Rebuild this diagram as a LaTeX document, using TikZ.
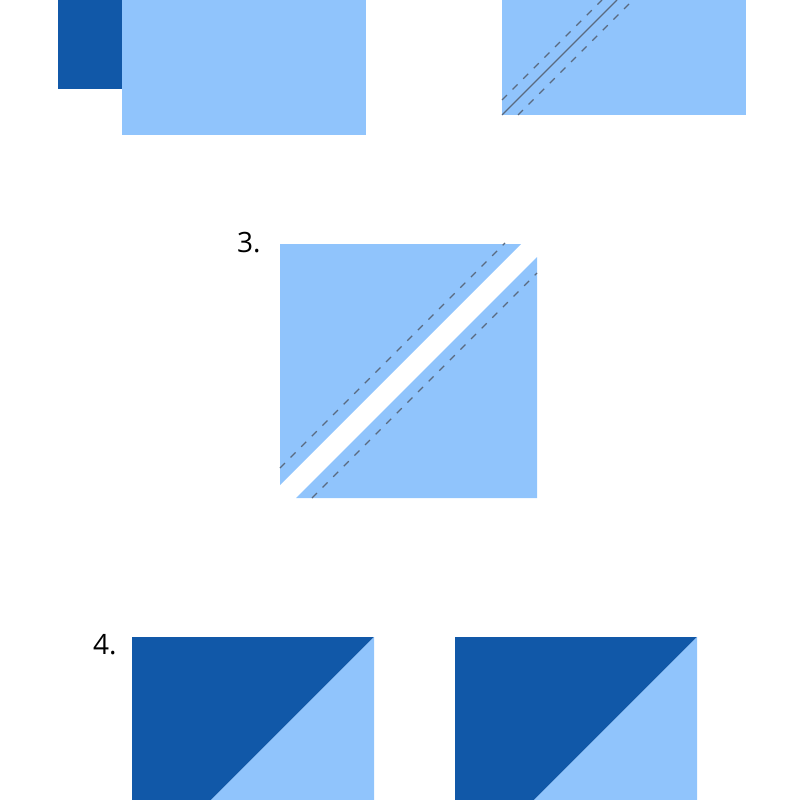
\documentclass[tikz,border=0pt]{standalone}
\usepackage{fontspec}
\setmainfont{Open Sans}
\definecolor{darkblue}{HTML}{1158A8}
\definecolor{lightblue}{HTML}{90C4FC}
\definecolor{seam}{HTML}{5A6A80}
\tikzset{
  dark/.style={fill=darkblue, draw=none},
  light/.style={fill=lightblue, draw=none},
  seamline/.style={draw=seam, line width=1.1pt},
  seamdash/.style={draw=seam, line width=1.2pt, dash pattern=on 7pt off 8pt},
  steplabel/.style={anchor=base west, inner sep=0pt, font=\fontsize{28}{28}\selectfont}
}
\begin{document}
\begin{tikzpicture}[x=1pt,y=-1pt]
\useasboundingbox (0,0) rectangle (800,800);
\clip (0,0) rectangle (800,800);
% step 1 (top left)
\fill[dark] (58,0) rectangle (122,89);
\fill[light] (122,0) rectangle (366,135);
% step 2 (top right)
\fill[light] (502,0) rectangle (746,115);
\draw[seamline] (502,115) -- (617,0);
\draw[seamdash] (502,100) -- (602,0);
\draw[seamdash] (518,115) -- (633,0);
% step 3
\node[steplabel] (l3) at (237,252) {3.};
\fill[light] (280,244) -- (521,244) -- (280,485) -- cycle;
\fill[light] (537,257) -- (537,498) -- (296,498) -- cycle;
\draw[seamdash] (280,468) -- (505,243);
\draw[seamdash] (312,498) -- (537,273);
% step 4
\node[steplabel] (l4) at (93,654) {4.};
\fill[dark] (132,637) -- (374,637) -- (132,879) -- cycle;
\fill[light] (374,637) -- (374,879) -- (132,879) -- cycle;
\fill[dark] (455,637) -- (697,637) -- (455,879) -- cycle;
\fill[light] (697,637) -- (697,879) -- (455,879) -- cycle;
\end{tikzpicture}
\end{document}
